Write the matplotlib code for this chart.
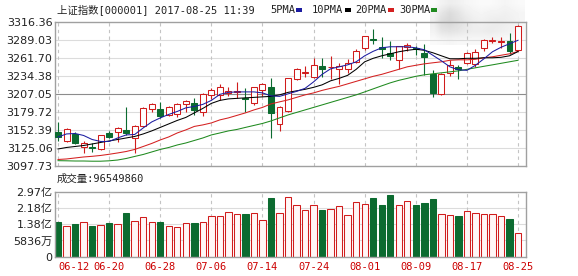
import numpy as np
import matplotlib
matplotlib.use("Agg")
import matplotlib.pyplot as plt
from matplotlib.patches import Rectangle

plt.rcParams['font.family'] = ['DejaVu Sans', 'Noto Sans CJK SC']
MONO = ['DejaVu Sans Mono', 'Noto Sans CJK SC']

# trading days shown
dates = ['06-12', '06-13', '06-14', '06-15', '06-16', '06-19', '06-20', '06-21', '06-22', '06-23',
         '06-26', '06-27', '06-28', '06-29', '06-30', '07-03', '07-04', '07-05', '07-06', '07-07',
         '07-10', '07-11', '07-12', '07-13', '07-14', '07-17', '07-18', '07-19', '07-20', '07-21',
         '07-24', '07-25', '07-26', '07-27', '07-28', '07-31', '08-01', '08-02', '08-03', '08-04',
         '08-07', '08-08', '08-09', '08-10', '08-11', '08-14', '08-15', '08-16', '08-17', '08-18',
         '08-21', '08-22', '08-23', '08-24', '08-25']

opens = [3148.9, 3135.2, 3146.3, 3126.6, 3127.1, 3123.5, 3147.8, 3149.3, 3152.4, 3140.2,
         3158.0, 3184.5, 3184.0, 3175.6, 3177.0, 3192.0, 3193.8, 3180.2, 3205.5, 3205.5,
         3209.0, 3210.0, 3201.4, 3193.0, 3213.1, 3218.1, 3161.0, 3181.2, 3229.3, 3238.5,
         3233.3, 3249.5, 3247.0, 3244.5, 3245.0, 3256.0, 3276.4, 3290.0, 3278.4, 3269.3,
         3257.6, 3278.0, 3276.5, 3269.3, 3237.4, 3207.0, 3238.0, 3247.0, 3254.5, 3253.0,
         3276.4, 3287.5, 3286.0, 3286.4, 3273.8]
highs = [3164.5, 3155.0, 3148.9, 3136.1, 3132.6, 3145.2, 3151.3, 3156.9, 3186.8, 3160.4,
         3187.0, 3193.8, 3194.0, 3188.0, 3193.0, 3197.5, 3200.5, 3208.1, 3215.7, 3222.2,
         3217.2, 3225.7, 3215.7, 3218.0, 3224.2, 3230.8, 3188.8, 3231.5, 3245.5, 3249.0,
         3261.2, 3261.2, 3264.7, 3254.5, 3259.7, 3274.8, 3295.0, 3305.0, 3293.0, 3287.0,
         3280.0, 3284.4, 3280.0, 3283.0, 3243.5, 3238.0, 3257.6, 3251.0, 3270.0, 3275.0,
         3289.5, 3293.0, 3293.0, 3299.0, 3311.8]
lows = [3136.1, 3134.0, 3131.1, 3117.5, 3119.0, 3122.0, 3140.2, 3134.2, 3145.2, 3117.5,
        3157.0, 3179.7, 3171.0, 3173.6, 3172.0, 3179.0, 3175.1, 3173.6, 3199.0, 3197.9,
        3204.0, 3200.5, 3180.2, 3190.3, 3204.0, 3139.8, 3150.9, 3180.2, 3228.3, 3232.4,
        3230.8, 3233.3, 3229.3, 3222.2, 3238.4, 3254.5, 3274.0, 3282.0, 3262.0, 3259.0,
        3244.0, 3272.0, 3265.8, 3236.3, 3202.0, 3206.0, 3234.3, 3229.3, 3252.0, 3248.0,
        3272.0, 3283.5, 3276.0, 3267.8, 3272.7]
closes = [3141.3, 3153.9, 3132.2, 3132.6, 3125.1, 3144.3, 3141.8, 3155.4, 3148.3, 3158.0,
          3185.8, 3191.0, 3173.0, 3186.8, 3191.0, 3196.0, 3182.7, 3206.6, 3213.1, 3217.2,
          3212.0, 3211.0, 3199.4, 3217.2, 3222.2, 3177.7, 3186.8, 3230.8, 3244.5, 3239.5,
          3251.0, 3244.5, 3248.0, 3248.5, 3254.5, 3272.7, 3294.0, 3288.5, 3274.3, 3264.3,
          3279.4, 3281.0, 3274.3, 3262.7, 3209.0, 3237.4, 3250.5, 3245.0, 3268.8, 3270.0,
          3288.0, 3288.5, 3287.0, 3272.7, 3309.2]

ma5 = [3141.7, 3146.3, 3147.0, 3144.0, 3137.9, 3134.9, 3134.9, 3140.2, 3144.8, 3145.5,
       3155.4, 3164.5, 3170.6, 3175.9, 3180.4, 3185.8, 3188.0, 3191.1, 3197.1, 3206.3,
       3209.3, 3210.0, 3210.0, 3210.0, 3208.5, 3204.0, 3203.2, 3207.0, 3210.8, 3215.4,
       3225.2, 3236.6, 3245.0, 3248.0, 3251.0, 3255.6, 3264.7, 3271.5, 3276.8, 3278.4,
       3278.4, 3278.4, 3276.8, 3273.8, 3265.5, 3257.1, 3248.0, 3243.5, 3242.7, 3250.3,
       3260.2, 3270.8, 3277.6, 3282.9, 3288.2]
ma10 = [3123.5, 3125.8, 3127.3, 3128.8, 3131.1, 3133.4, 3135.7, 3137.9, 3140.2, 3142.5,
        3146.3, 3150.9, 3156.2, 3161.5, 3166.8, 3171.3, 3178.2, 3185.0, 3192.6, 3197.1,
        3199.4, 3200.2, 3201.0, 3201.7, 3202.5, 3203.2, 3205.5, 3209.3, 3211.6, 3213.9,
        3216.9, 3220.7, 3226.8, 3230.5, 3235.1, 3244.2, 3255.6, 3260.9, 3264.7, 3267.7,
        3270.8, 3273.0, 3274.6, 3273.0, 3269.3, 3264.7, 3260.2, 3260.2, 3260.9, 3260.9,
        3261.7, 3261.7, 3262.4, 3264.7, 3271.2]
ma20 = [3107.6, 3108.4, 3109.9, 3111.4, 3112.4, 3113.7, 3115.5, 3117.5, 3119.7, 3122.8,
        3127.3, 3131.9, 3137.2, 3141.8, 3147.8, 3152.4, 3157.7, 3160.0, 3163.0, 3167.6,
        3170.6, 3174.4, 3178.2, 3182.7, 3186.5, 3191.8, 3194.9, 3197.9, 3201.7, 3205.5,
        3208.5, 3212.3, 3215.4, 3218.4, 3222.2, 3226.0, 3229.8, 3233.6, 3236.6, 3240.4,
        3244.2, 3248.0, 3250.3, 3252.5, 3254.1, 3255.6, 3257.9, 3258.6, 3258.6, 3259.4,
        3261.7, 3263.2, 3265.5, 3267.7, 3271.2]
ma30 = [3105.8, 3105.6, 3105.3, 3105.3, 3105.0, 3105.0, 3105.6, 3106.8, 3109.1, 3112.2,
        3115.2, 3119.0, 3122.8, 3125.8, 3129.6, 3132.6, 3136.4, 3140.2, 3144.8, 3147.8,
        3150.9, 3153.1, 3156.2, 3159.2, 3162.2, 3166.0, 3170.6, 3175.1, 3178.9, 3182.7,
        3186.5, 3190.3, 3194.1, 3197.9, 3201.7, 3205.5, 3210.0, 3214.6, 3219.2, 3223.7,
        3227.5, 3230.5, 3233.6, 3235.9, 3237.4, 3238.9, 3240.4, 3241.9, 3244.2, 3246.5,
        3248.8, 3251.0, 3253.3, 3255.6, 3257.9]

# volume in 亿 (1e8 shares)
volume = [1.51, 1.30, 1.40, 1.49, 1.30, 1.35, 1.46, 1.38, 1.95, 1.54,
          1.74, 1.49, 1.51, 1.30, 1.25, 1.45, 1.46, 1.49, 1.79, 1.79,
          1.99, 1.89, 1.90, 1.95, 1.59, 2.67, 1.95, 2.71, 2.33, 2.08,
          2.33, 2.08, 2.13, 2.28, 1.84, 2.46, 2.38, 2.67, 2.33, 2.79,
          2.33, 2.53, 2.33, 2.44, 2.63, 1.89, 1.84, 1.80, 2.04, 1.94,
          1.89, 1.89, 1.79, 1.64, 0.9654986]

price_ticks = [3097.73, 3125.06, 3152.39, 3179.72, 3207.05, 3234.38, 3261.70, 3289.03, 3316.36]
vol_ticks = [-0.212, 0.5836, 1.379, 2.174, 2.97]
vol_tick_labels = ['0', '5836万', '1.38亿', '2.18亿', '2.97亿']

RED = '#d01c1c'
GREEN = '#0c6b30'
GRID = '#dcdcdc'
FRAME = '#a0a0a0'

W, H = 578, 276
fig = plt.figure(figsize=(W / 100, H / 100), dpi=100)
fig.patch.set_facecolor('white')

# blurred mosaic patch at top right
mosaic = [[.98, .95, .93, .94, .96, .97, .98, .98, .97, .96, .97, .98],
          [.95, .90, .86, .89, .93, .95, .96, .95, .95, .94, .95, .96],
          [.93, .86, .84, .87, .90, .93, .94, .93, .92, .93, .94, .96],
          [.95, .90, .89, .90, .92, .93, .93, .92, .93, .94, .95, .97],
          [.98, .97, .96, .97, .97, .97, .97, .97, .97, .98, .98, .99]]
max_ = fig.add_axes([430 / W, 1 - 45 / H, 95 / W, 45 / H], zorder=0)
max_.imshow(mosaic, cmap='gray', vmin=0, vmax=1, aspect='auto', interpolation='bilinear')
max_.axis('off')

x = np.arange(len(dates))
up = np.array(closes) >= np.array(opens)

# ---- price panel
ax = fig.add_axes([55.3 / W, 1 - 166 / H, 470.4 / W, 144.3 / H], zorder=1)
ax.set_facecolor('none')
ax.set_xlim(-0.32, 54.9)
ax.set_ylim(price_ticks[0], price_ticks[-1])

for t in price_ticks[1:-1]:
    ax.axhline(t, color='#8c8c8c' if t == 3207.05 else GRID, lw=0.8, zorder=0)
for i in range(0, len(dates), 6):
    ax.axvline(i, color='#c4c4c4', lw=0.8, dashes=(3, 3), zorder=0)

for i in x:
    col = RED if up[i] else GREEN
    ax.vlines(i, lows[i], highs[i], color=col, lw=0.8, zorder=2)
    lo, hi = min(opens[i], closes[i]), max(opens[i], closes[i])
    ax.bar(i, max(hi - lo, 0.6), bottom=lo, width=0.7,
           facecolor='white' if up[i] else GREEN, edgecolor=col, lw=0.75, zorder=3)

ax.plot(x, ma30, color='#1f8a1f', lw=0.75, zorder=4)
ax.plot(x, ma20, color='#d42020', lw=0.75, zorder=4)
ax.plot(x, ma10, color='black', lw=0.75, zorder=4)
ax.plot(x, ma5, color='#1c1ca0', lw=0.75, zorder=4)

ax.set_yticks(price_ticks)
ax.set_yticklabels(['%.2f' % t for t in price_ticks], fontsize=8, color='#222222')
ax.set_xticks([])
ax.tick_params(length=0, pad=2)
for s in ax.spines.values():
    s.set_color(FRAME)
    s.set_linewidth(1)

# ---- volume panel
vax = fig.add_axes([55.3 / W, 1 - 256.7 / H, 470.4 / W, 65 / H])
vax.set_xlim(-0.32, 54.9)
vax.set_ylim(vol_ticks[0], vol_ticks[-1])
for t in vol_ticks[1:-1]:
    vax.axhline(t, color=GRID, lw=0.8, zorder=0)
for i in range(0, len(dates), 6):
    vax.axvline(i, color='#c4c4c4', lw=0.8, dashes=(3, 3), zorder=0)

vfloor = vol_ticks[0]
vax.bar(x, np.array(volume) - vfloor, bottom=vfloor, width=0.75,
        facecolor=['#fff6f6' if u else GREEN for u in up],
        edgecolor=[RED if u else GREEN for u in up], lw=0.75, zorder=2)

vax.set_yticks(vol_ticks)
vax.set_yticklabels(vol_tick_labels, fontsize=8, color='#222222')
tick_idx = list(range(0, len(dates), 6))
vax.set_xticks(tick_idx)
vax.set_xticklabels([dates[i] for i in tick_idx], fontsize=7.5, color='#cc0000', family=MONO)
vax.get_xticklabels()[0].set_ha('left')
vax.tick_params(length=0, pad=2)
vax.tick_params(axis='x', pad=4)
for s in vax.spines.values():
    s.set_color(FRAME)
    s.set_linewidth(1)

# ---- header texts
fig.text(57 / W, 1 - 10 / H, '上证指数[000001] 2017-08-25 11:39', fontsize=7.5,
         family=MONO, color='#222222', va='center', ha='left')
legend = [('5PMA', 270, '#1c1ca0'), ('10PMA', 312, 'black'),
          ('20PMA', 355, '#d42020'), ('30PMA', 399, '#1f8a1f')]
for label, px, col in legend:
    fig.text(px / W, 1 - 10 / H, label, fontsize=7.5, family=MONO, color='#222222',
             va='center', ha='left')
    fig.patches.append(Rectangle(((px + 6.3 * len(label) + 1) / W, 1 - 12 / H), 6 / W, 4 / H,
                                 transform=fig.transFigure, facecolor=col, edgecolor='none'))

fig.text(57 / W, 1 - 179 / H, '成交量:%d' % round(volume[-1] * 1e8), fontsize=7.5,
         family=MONO, color='#222222', va='center', ha='left')

fig.savefig('out.png', dpi=100)
